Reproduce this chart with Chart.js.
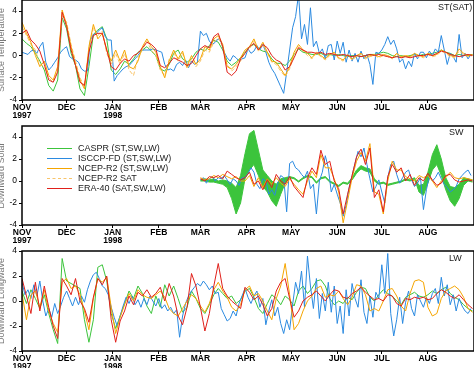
<!DOCTYPE html>
<html>
<head>
<meta charset="utf-8">
<script src="https://cdn.jsdelivr.net/npm/chart.js@4.4.0/dist/chart.umd.min.js"></script>
<style>
  body { margin: 0; background: #fff; width: 474px; height: 368px; overflow: hidden; position: relative; font-family: "Liberation Sans", Arial, sans-serif; }
  canvas { position: absolute; left: 0; }
  .etiquette { position: absolute; font-size: 9px; color: #222; white-space: nowrap; line-height: 10px; }
  .trait { position: absolute; width: 25px; height: 0; }
</style>
</head>
<body>
<canvas id="panneauST" width="474" height="124" style="top:0px"></canvas>
<canvas id="panneauSW" width="474" height="127" style="top:122px"></canvas>
<canvas id="panneauLW" width="474" height="121" style="top:247px"></canvas>
<div class="etiquette" style="left:438px; top:2px">ST(SAT)</div>
<div class="etiquette" style="left:449px; top:127px">SW</div>
<div class="etiquette" style="left:449px; top:253px">LW</div>
<div id="legende"></div>
<script>
// Axe du temps : jours depuis le 1er nov 1997
const moisJours = [0, 30, 61, 92, 120, 151, 181, 212, 242, 273];
const moisLabels = [['NOV', '1997'], ['DEC'], ['JAN', '1998'], ['FEB'], ['MAR'], ['APR'], ['MAY'], ['JUN'], ['JUL'], ['AUG']];
const PAS = 3;        // un point tous les 3 jours
const PAS_BLEU = 2;   // ISCCP plus bruité : tous les 2 jours
const DEBUT_SW = 120; // le rayonnement solaire commence en mars

const nomsSeries = ['CASPR (ST,SW,LW)', 'ISCCP-FD (ST,SW,LW)', 'NCEP-R2 (ST,SW,LW)', 'NCEP-R2 SAT', 'ERA-40 (SAT,SW,LW)'];
const vert = '#3cc43c', bleu = '#2b8ae0', orange = '#f5a500', orangeClair = '#f8c46a', rouge = '#e0201a';
const couleursSeries = [vert, bleu, orange, orangeClair, rouge];

// ST(SAT)
const stCaspr = [
  1.5, 1.1, 0.8, 0.2, -0.5, -1.3, -2.7, -3.2, -2.2, 3.4,
  2.4, 0.2, -0.9, -3.0, -3.6, -1.0, 1.9, 2.3, 2.6, 1.5,
  -1.3, -1.7, -1.2, -0.5, -0.8, -0.3, 0.3, 0.5, 0.8, 0.4,
  0.0, -1.2, -1.4, -0.8, 0.2, 0.5, -0.3, -0.6, -0.3, 0.3,
  0.6, 0.4, 0.9, 1.4, 1.2, 0.5, -0.5, -0.9, -0.6, -0.2,
  0.3, 0.8, 1.0, 0.6, 0.4, 0.3, -0.3, -0.7, -0.7, -0.9,
  -0.5, 0.1, 0.6, 0.3, 0.2, 0.1, 0.1, 0.2, 0.0, 0.1,
  0.0, 0.1, 0.0, -0.1, 0.0, 0.0, -0.1, 0.0, 0.1, 0.1,
  0.2, 0.3, 0.2, 0.0, -0.1, 0.0, -0.1, 0.0, 0.1, 0.0,
  0.1, 0.1, 0.2, 0.3, 0.5, 0.3, 0.2, 0.0, 0.1, 0.0,
  0.0, 0.1
];
const stIsccp = [
  0.3, 0.2, 0.1, 0.4, 0.5, 0.2, 0.8, 1.2, -0.6, -1.3, -1.0, -0.6, -0.2, 0.3, 0.6,
  0.8, -0.1, -0.3, -0.4, -0.6, -1.2, -1.4, -1.4, 1.4, 1.9, 2.0, 2.3, 2.5, 1.7, 1.4,
  1.4, -2.3, -1.8, -1.5, -1.2, -1.0, -0.9, -0.6, -0.3, 0.0, 0.4, 0.5, 0.5, 0.5, 0.6,
  0.5, 0.4, 0.3, -0.8, -1.3, -1.2, -1.4, -0.8, -0.6, -0.9, -0.4, -1.1, -0.5, -0.8, -0.6,
  2.2, 1.8, 2.0, 1.3, 1.0, 1.2, 1.5, 1.2, 0.3, -0.2, -0.5, 0.0, -0.2, -0.5, -0.3,
  -0.2, 0.6, 0.2, 0.4, 0.9, 0.5, 1.0, 0.3, -0.6, -1.2, -1.6, -2.2, -2.8, -3.4, -1.5,
  0.5, 2.5, 3.5, 5.5, 1.5, 2.8, 1.0, 4.3, 0.8, 1.3, 0.2, 0.6, -0.3, 0.9, 1.0,
  -0.4, 1.3, 0.2, 1.2, -0.6, 0.5, -0.5, 0.2, -0.6, 0.4, -0.3, 0.1, -0.8, -2.6, 0.3,
  0.2, 0.5, 1.0, 1.7, 1.0, 1.4, 0.6, -0.6, -0.3, -1.2, -0.5, -1.0, 0.2, -0.3, 0.3,
  0.3, -0.2, 0.4, 0.0, 0.6, 0.3, 1.8, 0.5, -0.8, 0.2, -0.1, -0.6, 1.9, -0.2, 0.2,
  -0.3, 0.1
];
const stNcep = [
  3.0, 2.0, 1.2, 0.0, -1.0, -0.5, -1.8, -2.2, -1.0, 4.1,
  2.8, 0.8, -0.8, -2.2, -3.0, 0.8, 2.8, 1.5, 2.0, 0.5,
  -0.5, 0.5, -0.5, 0.5, -1.0, -1.2, -0.5, 0.8, 1.5, 0.8,
  0.3, -1.0, -2.0, -0.5, 0.5, -0.3, 0.4, -1.0, 0.0, -0.8,
  -0.3, 0.8, 0.5, 1.5, 1.8, 1.0, -1.0, -1.2, -0.8, -0.2,
  0.5, 0.8, 1.5, 0.5, 1.2, 0.3, -0.5, -0.6, -1.2, -1.8,
  -1.0, 0.3, 1.0, 0.5, 0.2, -0.2, 0.3, 0.0, -0.3, 0.1,
  0.3, -0.2, -0.4, 0.1, -0.3, 0.0, 0.2, -0.2, 0.0, 0.1,
  -0.1, 0.1, 0.0, -0.2, 0.2, -0.1, 0.0, -0.1, 0.2, 0.0,
  -0.1, 0.2, 0.0, 0.1, 0.5, 0.3, 0.0, -0.1, 0.6, 0.2,
  0.0, 0.1
];
const stNcepSat = [
  2.6, 1.8, 1.0, 0.5, -0.8, -1.0, -2.0, -2.4, -1.3, 3.6,
  3.0, 1.0, -0.5, -2.0, -2.8, 0.5, 2.5, 1.8, 2.2, 0.2,
  -0.8, 0.2, -0.8, 0.2, -1.3, -1.8, -0.2, 0.5, 1.3, 0.5,
  0.0, -1.3, -1.8, -0.3, 0.3, -0.5, 0.2, -1.2, -0.3, -1.0,
  -0.5, 0.5, 0.3, 1.2, 1.6, 0.8, -0.8, -1.4, -1.0, -0.5,
  0.3, 0.6, 1.3, 0.4, 0.9, 0.2, -0.6, -0.8, -1.4, -1.9,
  -1.2, 0.0, 0.8, 0.4, 0.0, -0.3, 0.2, -0.1, -0.4, 0.0,
  0.2, -0.3, -0.5, 0.0, -0.4, -0.1, 0.1, -0.3, -0.1, 0.0,
  -0.2, 0.0, -0.1, -0.3, 0.1, -0.2, -0.1, -0.2, 0.1, -0.1,
  -0.2, 0.1, -0.1, 0.0, 0.4, 0.2, -0.1, -0.2, 0.4, 0.1,
  -0.1, 0.0
];
const stEra = [
  2.0, 2.3, 1.4, 1.0, 0.4, -0.8, -2.2, -2.4, -1.5, 3.9,
  2.6, 0.5, -0.9, -2.4, -2.7, 0.3, 1.8, 2.0, 2.0, 0.5,
  -1.0, -1.3, -0.7, -0.3, -0.5, 0.0, 0.2, 0.7, 1.2, 1.0,
  0.6, -0.9, -1.1, -0.7, -0.2, -0.4, -0.6, -0.9, -0.7, 0.0,
  0.6, 0.9, 0.7, 1.7, 2.0, 0.8, -1.5, -1.8, -1.4, -0.3,
  0.2, 0.8, 1.1, 0.5, 1.0, 0.7, 0.0, -0.4, -0.6, -1.3,
  -1.0, -0.2, 0.7, 0.5, 0.3, 0.3, 0.2, 0.3, 0.1, 0.2,
  0.1, 0.0, 0.1, 0.0, -0.1, 0.0, -0.1, 0.0, 0.1, 0.0,
  0.1, 0.0, -0.1, -0.2, -0.1, -0.2, -0.1, -0.2, -0.1, 0.0,
  0.0, 0.1, 0.0, 0.2, 0.4, 0.3, 0.1, 0.0, -0.1, 0.0,
  0.1, 0.0
];

// SW (à partir de mars) - CASPR en bande haut/bas
const swCasprHaut = [
  0.1, 0.2, 0.1, 0.2, 0.0, 0.1, 0.0, -0.2, -0.6, 0.5,
  2.5, 4.3, 4.6, 2.8, 1.0, 0.5, 0.0, -0.3, 0.2, 0.3,
  0.4, 0.3, 0.0, 0.3, 0.5, 0.4, -0.1, 0.3, 0.4, 0.0,
  -0.2, -0.4, -0.1, -0.2, 0.3, 1.0, 1.4, 1.2, 1.1, 0.2,
  -0.2, -0.1, -0.3, -0.2, -0.1, 0.0, 0.2, 0.1, 0.3, -0.4,
  -0.3, 0.8, 2.4, 3.3, 2.0, 0.3, -0.5, -0.6, -0.3, 0.3,
  0.2, 0.1
];
const swCasprBas = [
  0.0, 0.0, -0.1, -0.1, -0.2, -0.3, -0.6, -1.6, -3.0, -2.0,
  0.2, 1.0, 1.5, 0.5, -0.5, -1.0, -1.8, -2.3, -1.2, -0.2,
  0.3, 0.2, -0.1, 0.2, 0.4, 0.3, -0.2, 0.2, 0.3, -0.1,
  -0.3, -0.5, -0.2, -0.3, 0.1, 0.7, 1.1, 0.9, 0.8, 0.0,
  -0.3, -0.2, -0.4, -0.3, -0.2, -0.1, 0.1, 0.0, 0.2, -1.0,
  -1.3, -0.2, 1.0, 1.5, 0.5, -0.8, -1.8, -2.3, -1.6, -0.4,
  0.0, -0.1
];
const swIsccp = [
  0.1, 0.3, -0.2, 0.2, 0.4, 0.0, 0.3, 0.2, 0.5, 0.1, -0.3, 0.2, 0.0, -0.4, 0.3,
  0.3, 0.7, 1.2, 0.8, -0.3, -0.7, 0.2, 0.0, -1.2, -0.8, -1.3, -0.2, 0.5, 0.3, -2.8,
  1.6, 1.8, 1.2, 1.0, 0.6, 0.3, 0.9, -0.7, -0.3, -3.0, 0.0, 0.8, 2.3, 1.2, -1.0,
  -0.3, -1.2, -2.0, -3.2, -2.2, -0.6, 0.5, 1.6, 2.7, 2.2, 3.0, 1.5, 0.2, -1.0, -0.5,
  0.1, -1.0, -2.0, 0.3, 1.5, 1.8, 0.6, -0.2, 0.3, 0.8, 1.0, 0.1, -0.5, -0.2, 0.3,
  -2.6, -0.8, 0.5, 0.0, 0.3, 0.8, 0.2, -0.3, -0.6, -1.0, -0.8, -0.5, 0.2, 0.5, 0.8,
  1.0, 0.5
];
const swNcep = [
  0.3, 0.1, 0.2, 0.5, 0.3, 0.6, 0.4, 0.2, 0.4, 0.0,
  0.0, 0.5, -0.5, 0.3, -0.6, 0.2, -0.3, 0.3, -0.2, -0.5,
  0.2, -0.3, -0.8, -1.2, 0.0, 0.9, 0.3, 2.4, 1.2, 1.2,
  0.2, -1.0, -3.8, -1.8, 0.3, 1.8, 2.6, 1.8, 3.4, -1.0,
  -1.2, -3.0, 0.0, 1.8, 1.0, 1.0, 0.4, 0.2, 0.0, 0.5,
  0.3, 0.5, 0.0, -0.6, 0.0, 0.3, 0.8, 0.3, 0.2, 0.3,
  0.2, 0.1
];
const swEra = [
  0.2, 0.0, 0.4, 0.3, 0.5, 0.2, 0.9, 0.6, 0.3, 0.1,
  0.3, 0.8, -0.3, 0.0, -0.8, 0.1, -0.6, 0.6, 0.0, -0.3,
  0.4, -0.5, -1.0, -1.5, 0.3, 1.2, 0.6, 2.8, 1.5, 1.8,
  0.0, -0.7, -3.0, -1.2, 0.5, 2.2, 2.9, 1.5, 3.0, -1.5,
  -0.8, -2.8, 0.4, 1.5, 0.8, 1.2, 0.0, 0.6, -0.4, 0.3,
  0.0, 0.7, 0.1, -0.4, -0.2, 0.5, 0.6, 0.1, -0.1, 0.0,
  0.1, 0.0
];

// LW
const lwCaspr = [
  0.8, -0.2, 0.9, 0.2, -0.6, 0.5, -1.0, -2.3, -3.4, 3.4,
  1.6, 1.4, 1.2, 1.0, -1.5, -3.3, -1.5, 2.7, 2.9, 1.6,
  -1.0, -2.2, -1.2, -0.2, 0.8, 0.2, 1.2, 0.6, -0.4, -1.0,
  0.4, -0.5, 1.3, 0.4, 1.2, 0.2, -0.9, -0.5, 0.8, 0.2,
  -0.6, -1.0, -0.3, 0.5, 1.0, 0.6, 0.2, 0.4, -0.2, 0.1,
  0.8, 1.0, 0.3, -0.6, -1.0, -0.2, 0.5, 0.2, -0.3, 0.4,
  0.1, -0.4, 0.8, 1.2, 0.6, 1.0, 1.6, 1.7, 1.2, 0.2,
  -0.3, 0.0, -0.2, 0.3, 0.1, 0.7, 1.1, 1.0, 0.3, 0.0,
  0.5, 0.9, 0.6, 0.4, 0.0, -0.3, 0.3, 0.5, 0.7, 0.4,
  0.3, 0.5, 0.8, 0.6, 0.9, 1.1, 0.6, 0.3, 0.1, -0.3,
  -0.6, -0.8
];
const lwIsccp = [
  1.5, 0.5, 0.9, 0.2, 1.3, 0.4, 1.6, 0.0, -1.2, -0.6, -1.3, -0.2, -1.0, -0.4, 0.3,
  0.8, 0.2, -0.4, 0.3, -0.3, 0.4, -0.1, 0.9, 1.6, 2.1, 2.3, 1.8, 1.2, 1.0, 0.5,
  -0.5, -1.3, -2.0, -1.2, -0.4, 0.3, -0.2, 0.4, -0.3, 0.1, -0.5, 0.2, -0.3, 0.4, 0.0,
  -0.4, 0.2, -0.6, -0.3, -0.8, -0.5, -1.0, -0.7, -2.9, -1.2, -0.2, 0.4, 0.8, 1.1, 1.4,
  1.2, 1.6, 1.3, 0.9, 1.2, 0.6, 0.7, -0.6, -1.1, -1.6, -1.4, -0.8, -1.2, -0.2, 0.4,
  1.0, 0.3, -0.2, 0.4, 0.8, -0.5, 0.2, -1.9, -0.8, 0.1, -1.2, -0.5, -1.8, -2.6, -1.5,
  -2.3, -0.3, 1.5, 0.6, 2.4, -0.5, 3.6, 1.2, -0.6, 1.8, -1.4, 0.6, -0.8, 1.5, -0.9,
  1.2, -1.8, -0.4, -2.6, 0.9, -1.2, 1.4, 0.2, -0.5, 1.7, -0.9, -1.8, 0.4, -1.3, 0.7,
  0.2, 2.9, 0.6, 3.8, -1.0, -2.8, -1.5, 0.3, -1.8, -0.1, 0.8, -0.6, -1.2, 0.5, 0.0,
  -0.5, 0.3, -0.2, 0.6, 1.0, -0.2, 1.9, 0.4, 1.3, -0.3, 0.5, -0.8, 0.2, -0.4, -0.8,
  -1.0, -0.6
];
const lwNcep = [
  0.6, -1.5, 0.5, 0.8, -0.5, 0.9, -0.8, -1.8, -2.5, 1.5,
  1.8, 1.0, 1.2, 0.5, -0.8, -2.3, 0.2, 1.8, 1.5, 1.9,
  -0.5, -2.6, -1.3, -0.3, 0.6, 0.0, 0.9, 0.5, 0.3, 0.2,
  0.5, 0.8, 0.3, -0.6, -1.0, -1.2, -0.6, 0.0, 0.5, 0.2,
  -0.4, -0.9, -0.2, 0.9, 1.5, 0.8, 0.3, -0.5, -0.8, -0.3,
  0.9, 1.2, 0.4, 0.6, 0.0, -0.8, -1.5, 0.2, 1.2, 3.0,
  0.5, -2.3, -1.8, -0.8, 0.0, 0.4, 1.0, 1.2, 0.3, 0.5,
  0.4, 0.8, 0.2, -0.3, 0.3, 1.3, 1.2, 0.5, -0.8, -0.6,
  -0.8, 0.0, 0.9, 1.0, 0.4, -0.4, -0.8, 0.6, 1.6, 1.7,
  1.5, -0.5, -1.2, -1.0, 0.2, 0.8, 1.0, 1.2, 0.9, 0.3,
  -0.6, -0.9
];
const lwEra = [
  1.8, 0.4, -1.0, 1.5, -0.8, 1.2, -0.5, -2.0, -3.0, 1.8,
  1.2, 0.5, 1.8, 0.0, -0.6, -1.7, 0.3, 1.8, 1.3, 2.0,
  -1.5, -3.3, -1.6, -0.8, 0.4, -0.3, 0.7, 0.4, 0.9, 0.3,
  0.6, 1.1, 0.0, 1.4, 0.4, -1.2, -1.9, -0.5, 2.2, 1.2,
  -0.5, -2.4, -1.0, 1.2, 3.0, 1.0, 0.4, 0.0, -0.3, -0.6,
  1.1, 0.7, 0.1, 0.4, -0.3, -1.2, -0.6, 0.8, 1.5, 1.8,
  0.2, -1.3, -0.8, 0.0, 0.3, 0.5, 0.8, 0.4, 0.0, 0.5,
  0.9, 0.8, 0.3, 0.2, 0.6, 0.8, 1.1, 0.7, 0.4, 0.1,
  0.2, 0.0, 0.5, 0.4, -0.2, -0.4, 0.2, 0.1, 0.3, 0.2,
  0.3, 0.1, 0.2, 0.6, 0.9, 0.7, 0.4, 0.2, 0.5, 0.1,
  -0.3, -0.6
];

Chart.defaults.font.family = '"Liberation Sans", Arial, sans-serif';

// transforme une liste de valeurs en points {x: jour, y: valeur}
function enPoints(valeurs, pas, debut) {
  return valeurs.map((v, i) => ({ x: debut + i * pas, y: v }));
}

function serie(valeurs, pas, debut, couleur, extra) {
  return Object.assign({
    data: enPoints(valeurs, pas, debut),
    borderColor: couleur,
    borderWidth: 1,
    fill: false
  }, extra || {});
}

// cadre noir autour de la zone de tracé
const cadre = {
  id: 'cadre',
  afterDatasetsDraw(chart) {
    const { ctx, chartArea: a } = chart;
    ctx.save();
    ctx.strokeStyle = '#000';
    ctx.lineWidth = 1.5;
    ctx.strokeRect(a.left, a.top, a.right - a.left, a.bottom - a.top);
    ctx.restore();
  }
};

function creerPanneau(id, datasets, yMin, yMax, titreY, padHaut, hautAxeX) {
  return new Chart(document.getElementById(id), {
    type: 'line',
    data: { datasets },
    options: {
      responsive: false,
      animation: false,
      devicePixelRatio: 1,
      layout: { padding: { top: padHaut, left: 0, right: 0, bottom: 0 } },
      plugins: { legend: { display: false }, tooltip: { enabled: false } },
      elements: { point: { radius: 0 }, line: { tension: 0 } },
      scales: {
        x: {
          type: 'linear', min: 0, max: 304,
          afterBuildTicks: s => { s.ticks = moisJours.map(v => ({ value: v })); },
          afterFit: s => { s.height = hautAxeX; s.paddingLeft = 0; s.paddingRight = 0; },
          ticks: {
            autoSkip: false, maxRotation: 0, padding: 0, color: '#000',
            font: { size: 8.5, weight: 'bold', lineHeight: 1 },
            callback: (v, i) => moisLabels[i]
          },
          grid: { drawOnChartArea: false, tickLength: 3, color: '#000' },
          border: { display: false }
        },
        y: {
          min: yMin, max: yMax,
          afterFit: s => { s.width = 22; s.paddingTop = 0; s.paddingBottom = 0; },
          ticks: { stepSize: 1, padding: 2, color: '#000', font: { size: 8.5 } },
          grid: { drawOnChartArea: false, tickLength: 3, color: '#000' },
          border: { display: false },
          // titre un peu coupé par le bord gauche, comme sur la figure
          title: { display: true, text: titreY, color: '#777', font: { size: 9 }, padding: { top: -4, bottom: 0 } }
        }
      }
    },
    plugins: [cadre]
  });
}

// le premier dataset est dessiné au-dessus
creerPanneau('panneauST', [
  serie(stEra, PAS, 0, rouge),
  serie(stNcep, PAS, 0, orange),
  serie(stNcepSat, PAS, 0, orangeClair, { borderDash: [4, 2] }),
  serie(stIsccp, PAS_BLEU, 0, bleu),
  serie(stCaspr, PAS, 0, vert)
], -4, 5, 'Surface Temperature', 0, 24);

creerPanneau('panneauSW', [
  serie(swEra, PAS, DEBUT_SW, rouge),
  serie(swNcep, PAS, DEBUT_SW, orange),
  serie(swIsccp, PAS_BLEU, DEBUT_SW, bleu),
  serie(swCasprHaut, PAS, DEBUT_SW, vert),
  serie(swCasprBas, PAS, DEBUT_SW, vert, { fill: '-1', backgroundColor: vert })
], -4, 5, 'Downward Solar', 4, 24);

creerPanneau('panneauLW', [
  serie(lwEra, PAS, 0, rouge),
  serie(lwNcep, PAS, 0, orange),
  serie(lwIsccp, PAS_BLEU, 0, bleu),
  serie(lwCaspr, PAS, 0, vert)
], -4, 4, 'Downward Longwave', 4, 17);

// légende dans le panneau SW
const legende = document.getElementById('legende');
nomsSeries.forEach((nom, i) => {
  const y = 148 + i * 10;
  const trait = document.createElement('div');
  trait.className = 'trait';
  trait.style.left = '47px';
  trait.style.top = y + 'px';
  trait.style.borderTop = '1px ' + (i === 3 ? 'dashed ' : 'solid ') + couleursSeries[i];
  legende.appendChild(trait);
  const txt = document.createElement('div');
  txt.className = 'etiquette';
  txt.style.left = '78px';
  txt.style.top = (y - 5) + 'px';
  txt.textContent = nom;
  legende.appendChild(txt);
});
</script>
</body>
</html>
